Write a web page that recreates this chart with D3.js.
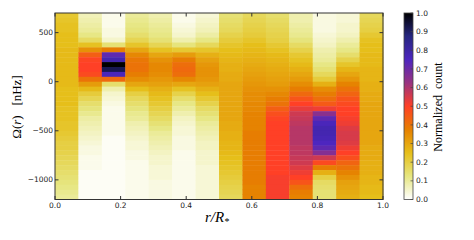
<!DOCTYPE html>
<html>
<head>
<meta charset="utf-8">
<script src="https://cdn.jsdelivr.net/npm/d3@7"></script>
<style>
  body { margin: 0; background: #fff; }
</style>
</head>
<body>
<div id="chart-container"></div>
<script>
// radial bins r/R* (14 equal bins over 0..1)
var r_bins = 14;
// Omega bins, 50 nHz wide, top to bottom
var omega_top = 700;
var omega_bottom = -1200;
var omega_step = 50;

// normalized counts, one line per radial bin, rows from +700 nHz down to -1200 nHz
var counts = [
  [0.22,0.23,0.24,0.24,0.25,0.25,0.25,0.26,0.26,0.26,0.26,0.26,0.26,0.26,0.26,0.25,0.25,0.25,0.25,0.24,0.24,0.24,0.23,0.23,0.22,0.21,0.20,0.20,0.19,0.18,0.17,0.16,0.15,0.14,0.13,0.12,0.11,0.10],
  [0.07,0.08,0.09,0.10,0.12,0.16,0.24,0.34,0.44,0.49,0.50,0.50,0.48,0.40,0.32,0.26,0.21,0.18,0.15,0.13,0.11,0.09,0.08,0.07,0.06,0.05,0.04,0.03,0.03,0.02,0.02,0.02,0.01,0.01,0.01,0.01,0.01,0.01],
  [0.02,0.02,0.02,0.03,0.03,0.05,0.14,0.38,0.72,0.78,1.00,0.92,0.76,0.42,0.15,0.08,0.05,0.04,0.03,0.02,0.02,0.02,0.02,0.02,0.02,0.01,0.01,0.01,0.01,0.01,0.01,0.01,0.01,0.01,0.01,0.01,0.01,0.01],
  [0.10,0.11,0.12,0.13,0.15,0.18,0.23,0.30,0.36,0.39,0.40,0.40,0.38,0.35,0.30,0.25,0.20,0.17,0.15,0.13,0.11,0.10,0.08,0.07,0.06,0.05,0.04,0.04,0.03,0.03,0.02,0.02,0.02,0.02,0.02,0.02,0.02,0.02],
  [0.08,0.09,0.10,0.11,0.12,0.14,0.18,0.24,0.30,0.34,0.36,0.36,0.35,0.33,0.31,0.28,0.26,0.24,0.22,0.20,0.18,0.16,0.14,0.12,0.10,0.09,0.08,0.07,0.06,0.05,0.05,0.04,0.04,0.04,0.03,0.03,0.03,0.03],
  [0.02,0.02,0.03,0.04,0.05,0.08,0.13,0.22,0.32,0.38,0.41,0.42,0.41,0.36,0.30,0.24,0.19,0.15,0.12,0.10,0.08,0.06,0.05,0.04,0.04,0.03,0.03,0.03,0.02,0.02,0.02,0.02,0.02,0.02,0.02,0.02,0.02,0.02],
  [0.04,0.05,0.06,0.07,0.09,0.12,0.17,0.23,0.28,0.31,0.33,0.34,0.34,0.33,0.31,0.28,0.25,0.22,0.19,0.16,0.14,0.12,0.10,0.09,0.08,0.07,0.06,0.06,0.05,0.05,0.05,0.04,0.04,0.04,0.04,0.04,0.04,0.04],
  [0.14,0.15,0.16,0.17,0.19,0.21,0.23,0.25,0.26,0.27,0.28,0.28,0.29,0.29,0.30,0.30,0.30,0.30,0.30,0.30,0.30,0.30,0.29,0.29,0.28,0.28,0.27,0.27,0.26,0.25,0.24,0.23,0.22,0.21,0.20,0.19,0.18,0.17],
  [0.17,0.18,0.19,0.20,0.21,0.23,0.25,0.26,0.27,0.28,0.29,0.30,0.31,0.32,0.33,0.34,0.35,0.35,0.36,0.36,0.37,0.37,0.37,0.37,0.38,0.38,0.38,0.38,0.38,0.38,0.38,0.38,0.38,0.38,0.38,0.37,0.37,0.37],
  [0.15,0.16,0.17,0.18,0.19,0.20,0.22,0.24,0.26,0.27,0.28,0.29,0.30,0.31,0.32,0.34,0.36,0.38,0.40,0.44,0.47,0.49,0.50,0.50,0.50,0.50,0.50,0.50,0.50,0.50,0.50,0.50,0.50,0.51,0.51,0.51,0.51,0.51],
  [0.08,0.08,0.09,0.10,0.11,0.13,0.16,0.19,0.22,0.24,0.26,0.28,0.30,0.32,0.35,0.38,0.42,0.46,0.50,0.53,0.56,0.57,0.58,0.59,0.59,0.59,0.59,0.58,0.58,0.57,0.56,0.54,0.52,0.50,0.46,0.41,0.38,0.37],
  [0.03,0.03,0.03,0.03,0.04,0.05,0.06,0.08,0.09,0.10,0.12,0.14,0.17,0.21,0.28,0.35,0.38,0.41,0.45,0.52,0.65,0.72,0.76,0.78,0.78,0.77,0.75,0.72,0.66,0.56,0.48,0.38,0.28,0.20,0.16,0.15,0.14,0.14],
  [0.04,0.04,0.05,0.05,0.06,0.08,0.10,0.12,0.15,0.19,0.23,0.27,0.30,0.33,0.37,0.40,0.43,0.46,0.48,0.50,0.50,0.51,0.52,0.54,0.55,0.55,0.54,0.52,0.50,0.47,0.43,0.40,0.37,0.34,0.31,0.30,0.29,0.28],
  [0.17,0.18,0.19,0.20,0.22,0.24,0.25,0.25,0.26,0.26,0.26,0.27,0.27,0.27,0.28,0.28,0.29,0.29,0.30,0.30,0.30,0.30,0.30,0.30,0.30,0.30,0.30,0.29,0.29,0.29,0.28,0.28,0.28,0.27,0.27,0.26,0.26,0.25]
];

var x_ticks = [0, 0.2, 0.4, 0.6, 0.8, 1.0];
var y_ticks = [500, 0, -500, -1000];
var cbar_ticks = [0, 0.1, 0.2, 0.3, 0.4, 0.5, 0.6, 0.7, 0.8, 0.9, 1.0];

// CMRmap reversed
var cmap_stops = [0, 0.125, 0.25, 0.375, 0.5, 0.625, 0.75, 0.875, 1];
var cmap_colors = ['#ffffff', '#e6e680', '#e6bf1a', '#e68000', '#ff4026', '#993380', '#4d26bf', '#262680', '#000000'];

var svg_width = 474;
var svg_height = 240;
var margin = {top: 13, left: 55, right: 383, bottom: 199.5};
var sans = '"DejaVu Sans", sans-serif';
var serif = '"Liberation Serif", "DejaVu Serif", serif';

var svg = d3.select("#chart-container")
  .append('svg')
  .attr("width", svg_width)
  .attr("height", svg_height);

var x = d3.scaleLinear().domain([0, 1]).range([margin.left, margin.right]);
var y = d3.scaleLinear().domain([omega_bottom, omega_top]).range([margin.bottom, margin.top]);
var color = d3.scaleLinear().domain(cmap_stops).range(cmap_colors).clamp(true);

// heat map cells
var cells = [];
counts.forEach(function(col, i) {
  col.forEach(function(v, j) {
    cells.push({r0: i / r_bins, r1: (i + 1) / r_bins, w1: omega_top - j * omega_step, w0: omega_top - (j + 1) * omega_step, v: v});
  });
});

svg.append('g')
  .selectAll('rect')
  .data(cells)
  .enter()
  .append('rect')
  .attr('x', function(d) { return x(d.r0); })
  .attr('y', function(d) { return y(d.w1); })
  .attr('width', function(d) { return x(d.r1) - x(d.r0) + 0.4; })
  .attr('height', function(d) { return y(d.w0) - y(d.w1) + 0.4; })
  .attr('fill', function(d) { return color(d.v); });

// frame
svg.append('rect')
  .attr('x', margin.left)
  .attr('y', margin.top)
  .attr('width', margin.right - margin.left)
  .attr('height', margin.bottom - margin.top)
  .attr('fill', 'none')
  .attr('stroke', '#333')
  .attr('stroke-width', 1);

var tick_len = 3.5;
var fmt1 = d3.format('.1f');

// x ticks (bottom and top, pointing inside)
x_ticks.forEach(function(t) {
  svg.append('line').attr('x1', x(t)).attr('x2', x(t)).attr('y1', margin.bottom).attr('y2', margin.bottom - tick_len).attr('stroke', '#333');
  svg.append('line').attr('x1', x(t)).attr('x2', x(t)).attr('y1', margin.top).attr('y2', margin.top + tick_len).attr('stroke', '#333');
  svg.append('text')
    .attr('x', x(t))
    .attr('y', margin.bottom + 8)
    .attr('text-anchor', 'middle')
    .style('font-family', sans)
    .style('font-size', '7.5px')
    .attr('fill', '#222')
    .text(fmt1(t));
});

// y ticks (left and right)
y_ticks.forEach(function(t) {
  svg.append('line').attr('x1', margin.left).attr('x2', margin.left + tick_len).attr('y1', y(t)).attr('y2', y(t)).attr('stroke', '#333');
  svg.append('line').attr('x1', margin.right).attr('x2', margin.right - tick_len).attr('y1', y(t)).attr('y2', y(t)).attr('stroke', '#333');
  svg.append('text')
    .attr('x', margin.left - 2)
    .attr('y', y(t))
    .attr('dy', '0.35em')
    .attr('text-anchor', 'end')
    .style('font-family', sans)
    .style('font-size', '7.5px')
    .attr('fill', '#222')
    .text(String(t).replace('-', '\u2212'));
});

// axis labels
svg.append('text')
  .attr('x', 217)
  .attr('y', 222)
  .attr('text-anchor', 'middle')
  .style('font-family', serif)
  .style('font-style', 'italic')
  .style('font-size', '15px')
  .html('r/R<tspan font-size="10px" dy="3">*</tspan>');

svg.append('text')
  .attr('transform', 'translate(21,107) rotate(-90)')
  .attr('text-anchor', 'middle')
  .style('font-family', serif)
  .style('font-size', '13px')
  .html('\u03a9(<tspan font-style="italic">r</tspan>)\u00a0\u00a0\u00a0[nHz]');

// colorbar
var cb = {x: 404, w: 9};
var cy = d3.scaleLinear().domain([0, 1]).range([margin.bottom, margin.top]);

var grad = svg.append('defs').append('linearGradient')
  .attr('id', 'cbar-grad')
  .attr('x1', 0).attr('x2', 0).attr('y1', 1).attr('y2', 0);
grad.selectAll('stop')
  .data(cmap_stops)
  .enter()
  .append('stop')
  .attr('offset', function(d) { return d; })
  .attr('stop-color', function(d) { return color(d); });

svg.append('rect')
  .attr('x', cb.x)
  .attr('y', cy(1))
  .attr('width', cb.w)
  .attr('height', cy(0) - cy(1))
  .attr('fill', 'url(#cbar-grad)')
  .attr('stroke', '#444')
  .attr('stroke-width', 0.8);

cbar_ticks.forEach(function(t) {
  svg.append('line').attr('x1', cb.x + cb.w).attr('x2', cb.x + cb.w - 2.5).attr('y1', cy(t)).attr('y2', cy(t)).attr('stroke', '#444').attr('stroke-width', 0.7);
  svg.append('text')
    .attr('x', cb.x + cb.w + 3)
    .attr('y', cy(t))
    .attr('dy', '0.35em')
    .style('font-family', sans)
    .style('font-size', '7.5px')
    .attr('fill', '#222')
    .text(fmt1(t));
});

svg.append('text')
  .attr('transform', 'translate(442,107) rotate(-90)')
  .attr('text-anchor', 'middle')
  .style('font-family', serif)
  .style('font-size', '12px')
  .text('Normalized\u00a0\u00a0count');
</script>
</body>
</html>
